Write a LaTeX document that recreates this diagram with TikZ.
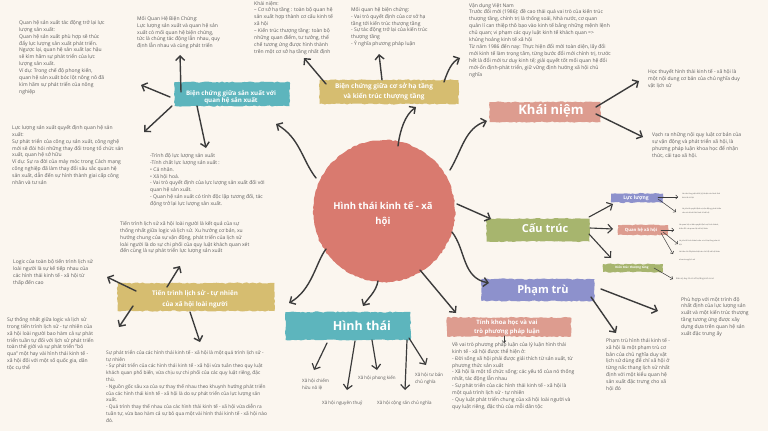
\documentclass[tikz,border=0pt]{standalone}
\usepackage{fontspec}
\setmainfont{Open Sans}
\usetikzlibrary{arrows.meta,decorations.pathmorphing}
\definecolor{bg}{HTML}{FBF6EF}
\definecolor{tealc}{HTML}{5DB5BD}
\definecolor{yelc}{HTML}{D6BD70}
\definecolor{pinkc}{HTML}{DD9C8F}
\definecolor{greenc}{HTML}{A7B56E}
\definecolor{purpc}{HTML}{8D91CC}
\definecolor{redc}{HTML}{D97A6F}
\definecolor{txtc}{HTML}{5B5B5B}
\definecolor{arrc}{HTML}{3B3B3B}
\tikzset{
 arr/.style={draw=arrc, line width=1.4pt, line cap=round, -{Straight Barb[length=4.5pt,width=9pt]}},
 arrs/.style={draw=arrc, line width=0.5pt, line cap=round, -{Straight Barb[length=2pt,width=4pt]}},
 txt/.style={anchor=north west, inner sep=0pt, align=left, text=txtc, font=\fontsize{5}{6.9}\selectfont},
 tinytxt/.style={anchor=north west, inner sep=0pt, align=left, text=txtc, font=\fontsize{1.9}{4.2}\selectfont},
 leaf/.style={anchor=north west, inner sep=0pt, align=left, text=txtc, font=\fontsize{4.5}{7}\selectfont},
 brush/.style={fill=#1, draw=none, inner sep=0pt, decorate, decoration={random steps,segment length=2.5pt,amplitude=0.6pt}},
 ttl/.style={text=white, align=center, inner sep=0pt}
}
\begin{document}
\begin{tikzpicture}[x=1pt,y=-1pt]
\fill[bg] (0,0) rectangle (768,431);
\useasboundingbox (0,0) rectangle (768,431);

% ---------- central circle ----------
\node[circle, minimum size=142pt, brush=redc] (c) at (384,211) {};
\node[ttl, font=\bfseries\fontsize{9.5}{15}\selectfont] (ct) at (383,214) {Hình thái kinh tế - xã\\hội};

% ---------- brush boxes ----------
\node[brush=tealc, minimum width=115pt, minimum height=24pt] (b1) at (232,94) {};
\node[ttl, font=\bfseries\fontsize{6.2}{7.2}\selectfont] (t1) at (231,97) {Biện chứng giữa sản xuất với\\quan hệ sản xuất};

\node[brush=yelc, minimum width=139pt, minimum height=24pt] (b2) at (389,92) {};
\node[ttl, font=\bfseries\fontsize{6.5}{10}\selectfont] (t2) at (384,92) {Biện chứng giữa cơ sở hạ tầng\\và kiến trúc thượng tầng};

\node[brush=pinkc, minimum width=111pt, minimum height=20pt] (b3) at (545,112) {};
\node[ttl, font=\bfseries\fontsize{13}{15}\selectfont] (t3) at (551,111) {Khái niệm};

\node[brush=greenc, minimum width=103pt, minimum height=23pt] (b4) at (538,230) {};
\node[ttl, font=\bfseries\fontsize{11}{13}\selectfont] (t4) at (545,228) {Cấu trúc};

\node[brush=purpc, minimum width=113pt, minimum height=22pt] (b5) at (538,290) {};
\node[ttl, font=\bfseries\fontsize{11}{13}\selectfont] (t5) at (543,290) {Phạm trù};

\node[brush=pinkc, minimum width=124pt, minimum height=19pt] (b6) at (509,327) {};
\node[ttl, font=\bfseries\fontsize{6}{9}\selectfont] (t6) at (507,327) {Tính khoa học và vai\\trò phương pháp luận};

\node[brush=tealc, minimum width=125pt, minimum height=28pt] (b7) at (348,326) {};
\node[ttl, font=\bfseries\fontsize{12.5}{15}\selectfont] (t7) at (362,326) {Hình thái};

\node[brush=yelc, minimum width=157pt, minimum height=28pt] (b8) at (196,297) {};
\node[ttl, font=\bfseries\fontsize{6.3}{11}\selectfont] (t8) at (195,299) {Tiến trình lịch sử - tự nhiên\\của xã hội loài người};

\node[brush=purpc, minimum width=52pt, minimum height=9pt] (b9) at (637,198) {};
\node[ttl, font=\bfseries\fontsize{5}{6}\selectfont] (t9) at (636,198) {Lực lượng};
\node[brush=pinkc, minimum width=50pt, minimum height=10pt] (b10) at (643,230) {};
\node[ttl, font=\bfseries\fontsize{4.3}{5}\selectfont] (t10) at (641,230) {Quan hệ xã hội};
\node[brush=greenc, minimum width=60pt, minimum height=8pt] (b11) at (633,268) {};
\node[ttl, font=\bfseries\fontsize{3}{4}\selectfont] (t11) at (632,268) {Kiến trúc thượng tầng};

% ---------- text blocks ----------
\node[txt] (n1) at (19,20) {Quan hệ sản xuất tác động trở lại lực\\lượng sản xuất:\\Quan hệ sản xuất phù hợp sẽ thúc\\đẩy lực lượng sản xuất phát triển.\\Ngược lại, quan hệ sản xuất lạc hậu\\sẽ kìm hãm sự phát triển của lực\\lượng sản xuất.\\Ví dụ: Trong chế độ phong kiến,\\quan hệ sản xuất bóc lột nông nô đã\\kìm hãm sự phát triển của nông\\nghiệp};
\node[txt] (n2) at (137,16) {Mối Quan Hệ Biện Chứng:\\Lực lượng sản xuất và quan hệ sản\\xuất có mối quan hệ biện chứng,\\tức là chúng tác động lẫn nhau, quy\\định lẫn nhau và cùng phát triển};
\node[txt] (n3) at (254,1) {Khái niệm:\\– Cơ sở hạ tầng : toàn bộ quan hệ\\sản xuất hợp thành cơ cấu kinh tế\\xã hội\\– Kiến trúc thượng tầng: toàn bộ\\những quan điểm, tư tưởng, thể\\chế tương ứng được hình thành\\trên một cơ sở hạ tầng nhất định};
\node[txt] (n4) at (351,7) {Mối quan hệ biện chứng:\\- Vai trò quyết định của cơ sở hạ\\tầng tới kiến trúc thượng tầng\\- Sự tác động trở lại của kiến trúc\\thượng tầng\\- Ý nghĩa phương pháp luận};
\node[txt] (n5) at (469,3) {Vận dụng Việt Nam\\Trước đổi mới (1986): đề cao thái quá vai trò của kiến trúc\\thượng tầng, chính trị là thống soái, Nhà nước, cơ quan\\quản lí can thiệp thô bạo vào kinh tế bằng những mệnh lệnh\\chủ quan; vi phạm các quy luật kinh tế khách quan =>\\khủng hoảng kinh tế xã hội\\Từ năm 1986 đến nay: Thực hiện đổi mới toàn diện, lấy đổi\\mới kinh tế làm trọng tâm, từng bước đổi mới chính trị, trước\\hết là đổi mới tư duy kinh tế; giải quyết tốt mối quan hệ đổi\\mới-ổn định-phát triển, giữ vững định hướng xã hội chủ\\nghĩa};
\node[txt] (n6) at (648,69) {Học thuyết hình thái kinh tế - xã hội là\\một nội dung cơ bản của chủ nghĩa duy\\vật lịch sử};
\node[txt] (n7) at (652,132) {Vạch ra những nội quy luật cơ bản của\\sự vận động và phát triển xã hội, là\\phương pháp luận khoa học để nhận\\thức, cải tạo xã hội.};
\node[txt] (n8) at (12,125) {Lực lượng sản xuất quyết định quan hệ sản\\xuất:\\Sự phát triển của công cụ sản xuất, công nghệ\\mới sẽ đòi hỏi những thay đổi trong tổ chức sản\\xuất, quan hệ sở hữu\\Ví dụ: Sự ra đời của máy móc trong Cách mạng\\công nghiệp đã làm thay đổi sâu sắc quan hệ\\sản xuất, dẫn đến sự hình thành giai cấp công\\nhân và tư sản};
\node[txt] (n9) at (150,153) {-Trình độ lực lượng sản xuất\\-Tính chất lực lượng sản xuất :\\• Cá nhân.\\• Xã hội hoá.\\- Vai trò quyết định của lực lượng sản xuất đối với\\quan hệ sản xuất.\\- Quan hệ sản xuất có tính độc lập tương đối, tác\\động trở lại lực lượng sản xuất.};
\node[txt] (n10) at (120,221) {Tiến trình lịch sử xã hội loài người là kết quả của sự\\thống nhất giữa logic và lịch sử. Xu hướng cơ bản, xu\\hướng chung của sự vận động, phát triển của lịch sử\\loài người là do sự chi phối của quy luật khách quan xét\\đến cùng là sự phát triển lực lượng sản xuất};
\node[txt] (n11) at (13,259) {Logic của toàn bộ tiến trình lịch sử\\loài người là sự kế tiếp nhau của\\các hình thái kinh tế - xã hội từ\\thấp đến cao};
\node[txt] (n12) at (7,317) {Sự thống nhất giữa logic và lịch sử\\trong tiến trình lịch sử - tự nhiên của\\xã hội loài người bao hàm cả sự phát\\triển tuần tự đối với lịch sử phát triển\\toàn thế giới và sự phát triển "bỏ\\qua" một hay vài hình thái kinh tế -\\xã hội đối với một số quốc gia, dân\\tộc cụ thể};
\node[txt, font=\fontsize{4.8}{6.8}\selectfont] (n13) at (106,350) {Sự phát triển của các hình thái kinh tế - xã hội là một quá trình lịch sử -\\tự nhiên\\- Sự phát triển của các hình thái kinh tế - xã hội vừa tuân theo quy luật\\khách quan phổ biến, vừa chịu sự chi phối của các quy luật riêng, đặc\\thù.\\- Nguồn gốc sâu xa của sự thay thế nhau theo khuynh hướng phát triển\\của các hình thái kinh tế - xã hội là do sự phát triển của lực lượng sản\\xuất.\\- Quá trình thay thế nhau của các hình thái kinh tế - xã hội vừa diễn ra\\tuần tự, vừa bao hàm cả sự bỏ qua một vài hình thái kinh tế - xã hội nào\\đó.};
\node[txt] (n14) at (452,342) {Về vai trò phương pháp luận của lý luận hình thái\\kinh tế - xã hội được thể hiện ở:\\- Đời sống xã hội phải được giải thích từ sản xuất, từ\\phương thức sản xuất\\- Xã hội là một tổ chức sống; các yếu tố của nó thống\\nhất, tác động lẫn nhau\\- Sự phát triển của các hình thái kinh tế - xã hội là\\một quá trình lịch sử - tự nhiên\\- Quy luật phát triển chung của xã hội loài người và\\quy luật riêng, đặc thù của mỗi dân tộc};
\node[txt] (n15) at (681,297) {Phù hợp với một trình độ\\nhất định của lực lượng sản\\xuất và một kiến trúc thượng\\tầng tương ứng được xây\\dựng dựa trên quan hệ sản\\xuất đặc trưng ấy};
\node[txt] (n16) at (606,338) {Phạm trù hình thái kinh tế -\\xã hội là một phạm trù cơ\\bản của chủ nghĩa duy vật\\lịch sử dùng để chỉ xã hội ở\\từng nấc thang lịch sử nhất\\định với một kiểu quan hệ\\sản xuất đặc trưng cho xã\\hội đó};

% Hình thái leaves
\node[leaf] (h1) at (302,379) {Xã hội chiếm\\hữu nô lệ};
\node[leaf] (h2) at (322,401) {Xã hội nguyên thuỷ};
\node[leaf] (h3) at (358,376) {Xã hội phong kiến};
\node[leaf] (h4) at (377,401) {Xã hội cộng sản chủ nghĩa};
\node[leaf] (h5) at (415,373) {Xã hội tư bản\\chủ nghĩa};

% Cấu trúc leaves
\node[tinytxt] (l1) at (682,193) {Là nền tảng vật chất, kỹ thuật của hình thái\\kinh tế xã hội};
\node[tinytxt] (l2) at (682,207.5) {Là yếu tố quyết định sự vận động, phát triển\\của các hình thái kinh tế xã hội};
\node[tinytxt] (q1) at (679,224) {Là quan hệ cơ bản quyết định sự hình thành,\\biến đổi các quan hệ xã hội khác};
\node[tinytxt] (q2) at (679,240) {Là yếu tố hình thành nên cơ sở hạ tầng của xã\\hội};
\node[tinytxt, font=\fontsize{1.9}{7.5}\selectfont] (q3) at (679,251) {Là tiêu chí để phân biệt các chế độ xã hội khác\\nhau trong lịch sử};
\node[tinytxt, font=\fontsize{2.1}{4}\selectfont] (k1) at (676,278) {Bảo vệ, duy trì cơ sở hạ tầng sinh ra nó};

% ---------- connector end points ----------
\coordinate (a1s) at (316,178); \coordinate (a1e) at (276,124);
\coordinate (a2s) at (398,146); \coordinate (a2e) at (416,107);
\coordinate (a3s) at (450,170); \coordinate (a3e) at (487,121);
\coordinate (a4s) at (457,204); \coordinate (a4e) at (491,219);
\coordinate (a5s) at (452,232); \coordinate (a5e) at (489,283);
\coordinate (a6s) at (420,270); \coordinate (a6e) at (456,313);
\coordinate (a7s) at (378,281); \coordinate (a7e) at (363,306);
\coordinate (a8s) at (326,249); \coordinate (a8e) at (289,303);

\draw[arr] (a1s) .. controls (302,160) and (300,138) .. (a1e);
\draw[arr] (a2s) .. controls (400,130) and (405,115) .. (a2e);
\draw[arr] (a3s) .. controls (462,150) and (465,128) .. (a3e);
\draw[arr] (a4s) -- (a4e);
\draw[arr] (a5s) .. controls (466,250) and (462,278) .. (a5e);
\draw[arr] (a6s) -- (a6e);
\draw[arr] (a7s) .. controls (376,292) and (368,298) .. (a7e);
\draw[arr] (a8s) .. controls (316,262) and (312,290) .. (a8e);

% teal box arrows
\coordinate (p1) at (181,92);  \coordinate (p1e) at (180,55);
\coordinate (p2) at (170,97);  \coordinate (p2e) at (141,85);
\coordinate (p3) at (172,106); \coordinate (p3e) at (144,132);
\coordinate (p4) at (197,106); \coordinate (p4e) at (206,148);
\draw[arr] (p1) -- (p1e);
\draw[arr] (p2) -- (p2e);
\draw[arr] (p3) -- (p3e);
\draw[arr] (p4) -- (p4e);

% yellow box arrows
\coordinate (y1) at (326,84); \coordinate (y1e) at (304,58);
\coordinate (y2) at (382,80); \coordinate (y2e) at (379,54);
\coordinate (y3) at (444,82); \coordinate (y3e) at (460,58);
\draw[arr] (y1) -- (y1e);
\draw[arr] (y2) -- (y2e);
\draw[arr] (y3) .. controls (448,70) and (452,62) .. (y3e);

% Khái niệm arrows
\coordinate (k1s) at (596,107); \coordinate (k1e) at (639,81);
\coordinate (k2s) at (596,114); \coordinate (k2e) at (643,137);
\draw[arr] (k1s) -- (k1e);
\draw[arr] (k2s) -- (k2e);

% Cấu trúc arrows
\coordinate (c1s) at (589,217); \coordinate (c1e) at (613,204);
\coordinate (c2s) at (590,228); \coordinate (c2e) at (613,229);
\coordinate (c3s) at (589,234); \coordinate (c3e) at (611,258);
\draw[arr, line width=1.1pt] (c1s) -- (c1e);
\draw[arr, line width=1.1pt] (c2s) -- (c2e);
\draw[arr, line width=1.1pt] (c3s) -- (c3e);
\coordinate (s1) at (658,197); \coordinate (s1e) at (678,197);
\coordinate (s2) at (658,199); \coordinate (s2e) at (676,212);
\coordinate (s3) at (661,230); \coordinate (s3e) at (674,230);
\coordinate (s4) at (663,232); \coordinate (s4e) at (678,244);
\coordinate (s5) at (661,233); \coordinate (s5e) at (673,254);
\coordinate (s6) at (654,268); \coordinate (s6e) at (673,279);
\draw[arrs] (s1) -- (s1e);
\draw[arrs] (s2) -- (s2e);
\draw[arrs] (s3) -- (s3e);
\draw[arrs] (s4) -- (s4e);
\draw[arrs] (s5) -- (s5e);
\draw[arrs] (s6) -- (s6e);

% Phạm trù arrows
\coordinate (m1) at (601,289); \coordinate (m1e) at (658,311);
\coordinate (m2) at (591,297); \coordinate (m2e) at (616,333);
\draw[arr] (m1) -- (m1e);
\draw[arr] (m2) -- (m2e);

% Tính khoa học arrow
\coordinate (w1) at (504,336); \coordinate (w1e) at (504,343);
\draw[arrs, line width=0.6pt] (w1) -- (w1e);

% Hình thái arrows
\coordinate (h1s) at (327,343); \coordinate (h1e) at (314,370);
\coordinate (h2s) at (355,341); \coordinate (h2e) at (347,390);
\coordinate (h3s) at (372,340); \coordinate (h3e) at (377,370);
\coordinate (h4s) at (407,340); \coordinate (h4e) at (405,390);
\coordinate (h5s) at (409,338); \coordinate (h5e) at (426,365);
\draw[arr, line width=1.2pt] (h1s) -- (h1e);
\draw[arr, line width=1.2pt] (h2s) -- (h2e);
\draw[arr, line width=1.2pt] (h3s) -- (h3e);
\draw[arr, line width=1.2pt] (h4s) -- (h4e);
\draw[arr, line width=1.2pt] (h5s) -- (h5e);

% Tiến trình arrows
\coordinate (r1) at (136,291); \coordinate (r1e) at (107,277);
\coordinate (r2) at (133,306); \coordinate (r2e) at (119,327);
\coordinate (r3) at (167,287); \coordinate (r3e) at (180,266);
\coordinate (r4) at (190,312); \coordinate (r4e) at (200,342);
\draw[arr] (r1) -- (r1e);
\draw[arr] (r2) -- (r2e);
\draw[arr] (r3) -- (r3e);
\draw[arr] (r4) -- (r4e);
\end{tikzpicture}
\end{document}
